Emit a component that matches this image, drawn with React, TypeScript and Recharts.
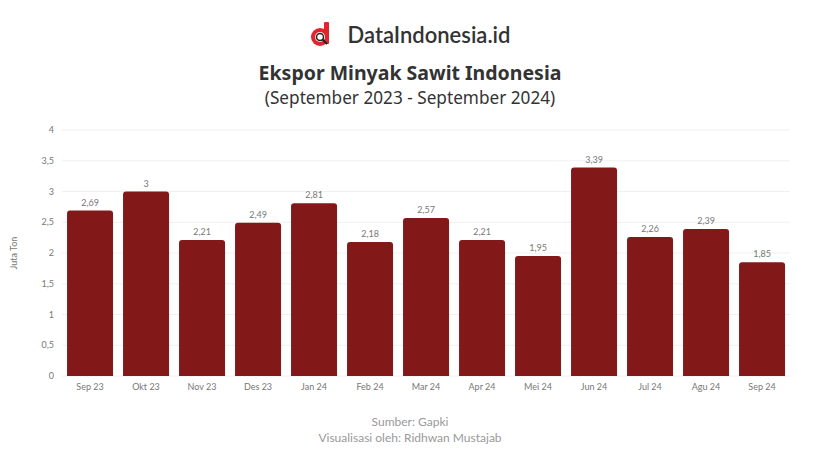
import { Bar, BarChart, CartesianGrid, LabelList, XAxis, YAxis, Label } from 'recharts';

const months = ['Sep 23', 'Okt 23', 'Nov 23', 'Des 23', 'Jan 24', 'Feb 24', 'Mar 24', 'Apr 24', 'Mei 24', 'Jun 24', 'Jul 24', 'Agu 24', 'Sep 24'];
const exportValues = [2.69, 3, 2.21, 2.49, 2.81, 2.18, 2.57, 2.21, 1.95, 3.39, 2.26, 2.39, 1.85];
const yTicks = [0, 0.5, 1, 1.5, 2, 2.5, 3, 3.5, 4];

const chartData = months.map((m, i) => ({ name: m, value: exportValues[i] }));

const fmt = (v: number) => v.toLocaleString('id-ID', { maximumFractionDigits: 2 });

const font = 'Lato, "Noto Sans", sans-serif';
const headFont = '"Noto Sans", sans-serif';

const Logo = () => (
    <svg width="24" height="26" viewBox="0 0 24 26">
        <rect x="14" y="0" width="5" height="22" rx="1" fill="#e3242b" />
        <circle cx="10" cy="15" r="9" fill="#e3242b" />
        <circle cx="10" cy="15" r="5" fill="#fff" />
        <circle cx="10" cy="15" r="3.5" fill="none" stroke="#222" strokeWidth="1.5" />
        <line x1="12.5" y1="17.5" x2="17" y2="22" stroke="#222" strokeWidth="2" />
    </svg>
);

const App = () => {
    return (
        <div
            style={{
                position: 'absolute',
                left: 0,
                top: 0,
                width: 820,
                height: 460,
                background: '#fff',
                fontFamily: font,
            }}
        >
            <div
                style={{
                    position: 'absolute',
                    top: 21,
                    left: 0,
                    width: 820,
                    display: 'flex',
                    justifyContent: 'center',
                    alignItems: 'center',
                    gap: 14,
                }}
            >
                <Logo />
                <span style={{ fontSize: 22, fontWeight: 600, color: '#333' }}>DataIndonesia.id</span>
            </div>
            <div style={{ position: 'absolute', top: 59, width: 820, textAlign: 'center', fontSize: 19.5, fontWeight: 700, color: '#333', fontFamily: headFont }}>
                Ekspor Minyak Sawit Indonesia
            </div>
            <div style={{ position: 'absolute', top: 86, width: 820, textAlign: 'center', fontSize: 17.2, color: '#333', fontFamily: headFont }}>
                (September 2023 - September 2024)
            </div>
            <div style={{ position: 'absolute', top: 120, left: 0 }}>
                <BarChart
                    width={820}
                    height={290}
                    data={chartData}
                    margin={{ top: 10, right: 30, bottom: 4, left: 10 }}
                    barCategoryGap="9%"
                >
                    <CartesianGrid vertical={false} stroke="#f0f0f0" />
                    <XAxis
                        dataKey="name"
                        height={30}
                        axisLine={false}
                        tickLine={false}
                        tick={{ fill: '#777', fontSize: 9, fontFamily: font }}
                        interval={0}
                    />
                    <YAxis
                        width={52}
                        domain={[0, 4]}
                        ticks={yTicks}
                        axisLine={false}
                        tickLine={false}
                        tickFormatter={fmt}
                        tick={{ fill: '#777', fontSize: 9, fontFamily: font }}
                    >
                        <Label
                            value="Juta Ton"
                            angle={-90}
                            position="insideLeft"
                            offset={4}
                            style={{ fill: '#777', fontSize: 9, fontFamily: font, textAnchor: 'middle' }}
                        />
                    </YAxis>
                    <Bar dataKey="value" fill="#821818" radius={[3, 3, 0, 0]} isAnimationActive={false}>
                        <LabelList
                            dataKey="value"
                            position="top"
                            formatter={(v: any) => fmt(Number(v))}
                            style={{ fill: '#777', fontSize: 9, fontFamily: font }}
                        />
                    </Bar>
                </BarChart>
            </div>
            <div style={{ position: 'absolute', top: 414, width: 820, textAlign: 'center', fontSize: 12, color: '#999', lineHeight: '16px' }}>
                Sumber: Gapki
                <br />
                Visualisasi oleh: Ridhwan Mustajab
            </div>
        </div>
    );
};

export default App;
